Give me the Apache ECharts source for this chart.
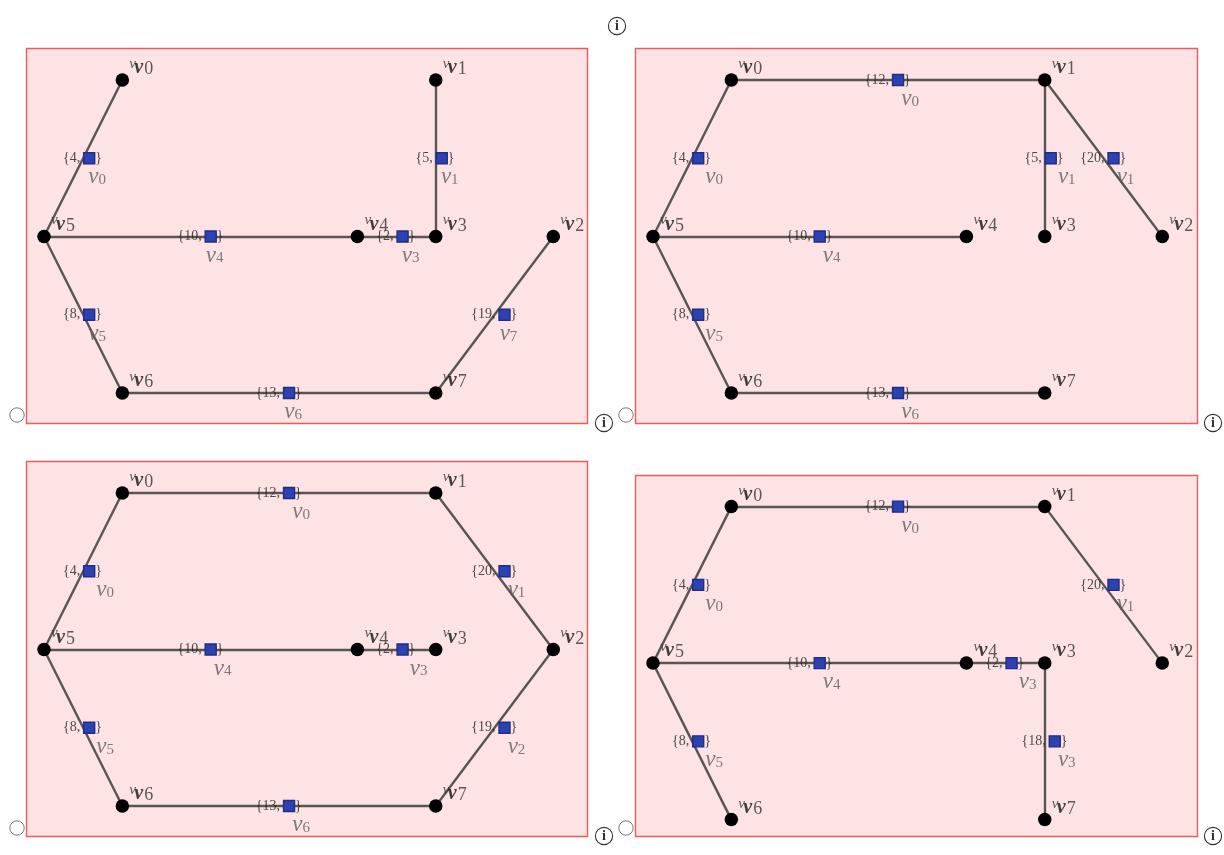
<!DOCTYPE html>
<html>
<head>
<meta charset="utf-8">
<style>
html, body { margin: 0; padding: 0; background: #fff; }
#chart { width: 1224px; height: 855px; }
</style>
<script src="https://cdn.jsdelivr.net/npm/echarts@6/dist/echarts.min.js"></script>
</head>
<body>
<div id="chart"></div>
<script>
// graph layout in graph units, same for all four panels
var nodeNames = ['0', '1', '2', '3', '4', '5', '6', '7'];
var nodeX = [1, 5, 6.5, 5, 4, 0, 1, 5];
var nodeY = [4, 4, 2, 2, 2, 2, 0, 0];

// edges: [from, to, weight, subscript of the label under the square]
var edgesA = [[0, 5, 4, 0], [1, 3, 5, 1], [5, 4, 10, 4], [4, 3, 2, 3], [5, 6, 8, 5], [6, 7, 13, 6], [7, 2, 19, 7]];
var edgesB = [[0, 1, 12, 0], [0, 5, 4, 0], [1, 3, 5, 1], [1, 2, 20, 1], [5, 4, 10, 4], [5, 6, 8, 5], [6, 7, 13, 6]];
var edgesC = [[0, 1, 12, 0], [0, 5, 4, 0], [1, 2, 20, 1], [5, 4, 10, 4], [4, 3, 2, 3], [2, 7, 19, 2], [5, 6, 8, 5], [6, 7, 13, 6]];
var edgesD = [[0, 1, 12, 0], [0, 5, 4, 0], [1, 2, 20, 1], [5, 4, 10, 4], [4, 3, 2, 3], [3, 7, 18, 3], [5, 6, 8, 5]];

var SERIF = '"Liberation Serif", "DejaVu Serif", serif';
var UNIT_X = 78.35;
var UNIT_Y = 78.25;

// left/top/right/bottom of the pink box, pixel of graph origin (v5 x, v6 y), shift of the grey labels
var panels = [
    { edges: edgesA, l: 26.5, t: 48.5, r: 587.5, b: 423.5, ox: 44, oy: 393, shift: -8 },
    { edges: edgesB, l: 635.5, t: 48.5, r: 1197.5, b: 423.5, ox: 653, oy: 393, shift: 0 },
    { edges: edgesC, l: 26.5, t: 461.5, r: 587.5, b: 836.5, ox: 44, oy: 806, shift: 0 },
    { edges: edgesD, l: 635.5, t: 475.5, r: 1197.5, b: 836.5, ox: 653, oy: 819.6, shift: 0 }
];

var chart = echarts.init(document.getElementById('chart'));

var grids = [], xAxes = [], yAxes = [], series = [];

function textSeries(i, data, z) {
    return {
        type: 'scatter',
        xAxisIndex: i,
        yAxisIndex: i,
        symbolSize: 1,
        itemStyle: { color: 'transparent' },
        silent: true,
        z: z,
        data: data
    };
}

panels.forEach(function (p, i) {
    grids.push({
        left: p.l, top: p.t, width: p.r - p.l, height: p.b - p.t,
        show: true,
        backgroundColor: '#fde3e4',
        borderColor: '#f25a5a',
        borderWidth: 1.4
    });
    xAxes.push({
        type: 'value', gridIndex: i, show: false,
        min: (p.l - p.ox) / UNIT_X, max: (p.r - p.ox) / UNIT_X
    });
    yAxes.push({
        type: 'value', gridIndex: i, show: false,
        min: (p.oy - p.b) / UNIT_Y, max: (p.oy - p.t) / UNIT_Y
    });

    // edges and nodes
    series.push({
        type: 'graph',
        coordinateSystem: 'cartesian2d',
        xAxisIndex: i,
        yAxisIndex: i,
        layout: 'none',
        symbol: 'circle',
        symbolSize: 13.5,
        silent: true,
        z: 2,
        itemStyle: { color: '#000' },
        lineStyle: { color: '#5a5555', width: 2.4, opacity: 1 },
        data: nodeNames.map(function (n, k) {
            return { name: 'v' + n, value: [nodeX[k], nodeY[k]] };
        }),
        links: p.edges.map(function (e) {
            return { source: e[0], target: e[1] };
        })
    });

    // node names: small v behind a bold v with subscript
    series.push(textSeries(i, nodeNames.map(function (n, k) {
        return {
            value: [nodeX[k], nodeY[k]],
            label: {
                show: true, position: 'inside', align: 'left', verticalAlign: 'middle',
                offset: [7, -16],
                formatter: function () { return 'v'; },
                fontFamily: SERIF, fontStyle: 'italic', fontSize: 15, color: '#333'
            }
        };
    }), 5));
    series.push(textSeries(i, nodeNames.map(function (n, k) {
        return {
            value: [nodeX[k], nodeY[k]],
            label: {
                show: true, position: 'inside', align: 'left', verticalAlign: 'middle',
                offset: [12, -12],
                formatter: function () { return '{v|v}{n|' + n + '}'; },
                rich: {
                    v: { fontFamily: SERIF, fontStyle: 'italic', fontWeight: 'bold', fontSize: 20, color: '#111' },
                    n: { fontFamily: SERIF, fontSize: 18, color: '#333', padding: [3, 0, 0, 1] }
                }
            }
        };
    }), 5));

    // weight text, square and grey label at the middle of each edge
    var openText = [], closeText = [], squares = [], greyText = [];
    p.edges.forEach(function (e) {
        var mid = [(nodeX[e[0]] + nodeX[e[1]]) / 2, (nodeY[e[0]] + nodeY[e[1]]) / 2];
        var wide = e[2] >= 10;
        var dx = wide ? 10 : 6;
        var greyDx = dx + p.shift + (wide ? 12 : 16);
        var labelBase = {
            show: true, position: 'inside', verticalAlign: 'middle',
            fontFamily: SERIF, fontSize: 14, color: '#222'
        };
        openText.push({
            value: mid,
            label: Object.assign({}, labelBase, {
                align: 'right', offset: [dx - 9, 0],
                formatter: function () { return '{' + e[2] + ','; }
            })
        });
        closeText.push({
            value: mid,
            label: Object.assign({}, labelBase, {
                align: 'left', offset: [dx + 6, 0],
                formatter: function () { return '}'; }
            })
        });
        squares.push({ value: mid, symbolOffset: [dx, 0] });
        greyText.push({
            value: mid,
            label: {
                show: true, position: 'inside', align: 'center', verticalAlign: 'middle',
                offset: [greyDx, 19],
                formatter: function () { return '{v|v}{n|' + e[3] + '}'; },
                rich: {
                    v: { fontFamily: SERIF, fontStyle: 'italic', fontSize: 23, color: '#5e5e5e' },
                    n: { fontFamily: SERIF, fontSize: 15, color: '#5e5e5e', padding: [6, 0, 0, 0] }
                }
            }
        });
    });
    series.push(textSeries(i, openText, 3));
    series.push(textSeries(i, closeText, 3));
    series.push({
        type: 'scatter',
        xAxisIndex: i,
        yAxisIndex: i,
        symbol: 'rect',
        symbolSize: 11,
        silent: true,
        z: 4,
        itemStyle: { color: '#2c42b2', borderColor: '#1f2d85', borderWidth: 1.4, opacity: 1 },
        data: squares
    });
    series.push(textSeries(i, greyText, 5));
});

// radio buttons and info icons around the panels
var radioSpots = [[17, 415], [626, 415], [17, 828], [626, 828]];
var infoSpots = [[617, 26], [604, 423], [1213, 423], [604, 836], [1213, 836]];
var graphics = [];
radioSpots.forEach(function (c) {
    graphics.push({
        type: 'circle', shape: { cx: c[0], cy: c[1], r: 7.2 },
        style: { fill: '#fff', stroke: '#777', lineWidth: 1 }
    });
});
infoSpots.forEach(function (c) {
    graphics.push({
        type: 'circle', shape: { cx: c[0], cy: c[1], r: 8.6 },
        style: { fill: '#fff', stroke: '#333', lineWidth: 1.1 }
    });
    graphics.push({
        type: 'text', x: c[0], y: c[1] + 0.5,
        style: {
            text: 'i', fill: '#333', align: 'center', verticalAlign: 'middle',
            font: 'bold 14px ' + SERIF
        }
    });
});

chart.setOption({
    animation: false,
    grid: grids,
    xAxis: xAxes,
    yAxis: yAxes,
    graphic: graphics,
    series: series
});
</script>
</body>
</html>
